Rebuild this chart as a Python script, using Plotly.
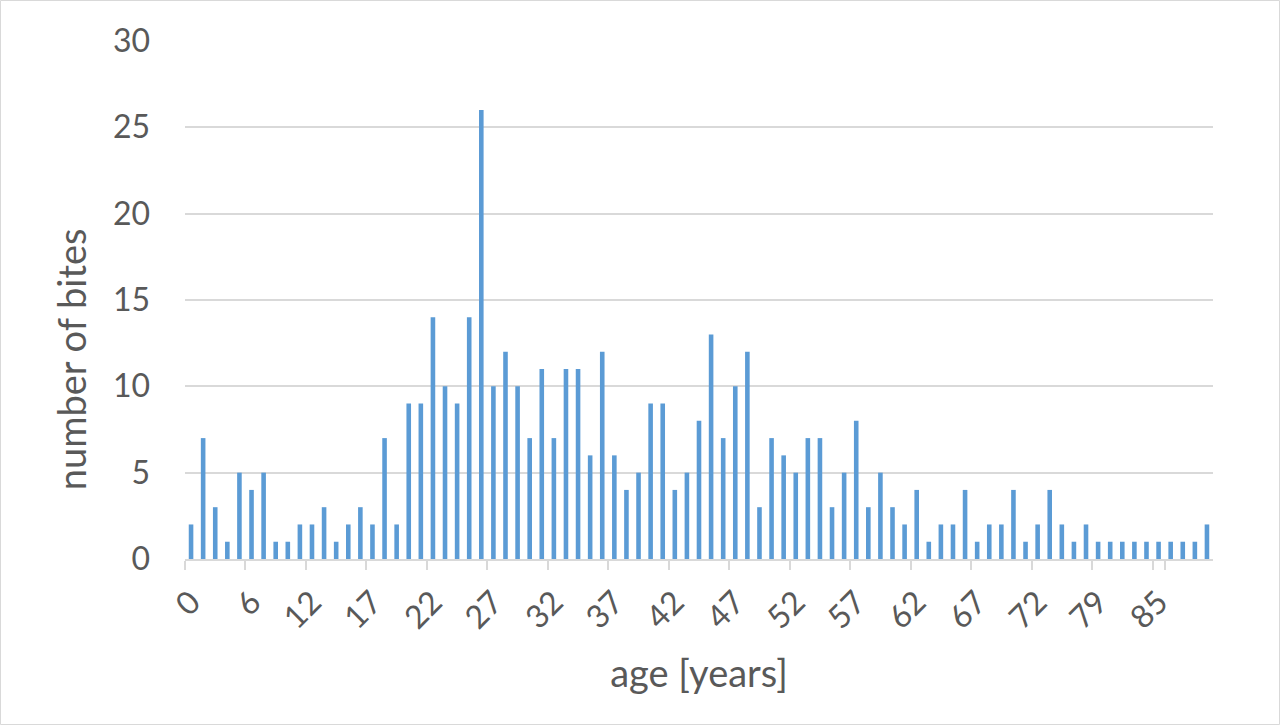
import plotly.graph_objects as go

ages = [0, 1, 2, 3, 4, 6, 7, 8, 9, 10,
        12, 13, 14, 15, 16, 17, 18, 19, 20, 21,
        22, 23, 24, 25, 26, 27, 28, 29, 30, 31,
        32, 33, 34, 35, 36, 37, 38, 39, 40, 41,
        42, 43, 44, 45, 46, 47, 48, 49, 50, 51,
        52, 53, 54, 55, 56, 57, 58, 59, 60, 61,
        62, 63, 64, 65, 66, 67, 68, 69, 70, 71,
        72, 73, 75, 76, 78, 79, 80, 81, 82, 84,
        85, 86, 87, 89, 91]
bites = [2, 7, 3, 1, 5, 4, 5, 1, 1, 2,
         2, 3, 1, 2, 3, 2, 7, 2, 9, 9,
         14, 10, 9, 14, 26, 10, 12, 10, 7, 11,
         7, 11, 11, 6, 12, 6, 4, 5, 9, 9,
         4, 5, 8, 13, 7, 10, 12, 3, 7, 6,
         5, 7, 7, 3, 5, 8, 3, 5, 3, 2,
         4, 1, 2, 2, 4, 1, 2, 2, 4, 1,
         2, 4, 2, 1, 2, 1, 1, 1, 1, 1,
         1, 1, 1, 1, 2]
tick_labels = ["0", "6", "12", "17", "22", "27", "32", "37", "42",
               "47", "52", "57", "62", "67", "72", "79", "85"]
y_ticks = [0, 5, 10, 15, 20, 25, 30]
x_title = "age [years]"
y_title = "number of bites"

cats = [str(a) for a in ages]
font_family = "Lato, Open Sans, sans-serif"
txt = "#595959"

fig = go.Figure(go.Bar(x=cats, y=bites, marker=dict(color="#5b9bd5", line=dict(width=0))))

fig.update_layout(
    width=1280, height=725,
    paper_bgcolor="white", plot_bgcolor="white",
    margin=dict(l=185, r=67, t=40, b=166, autoexpand=False),
    bargap=0.62,
    showlegend=False,
    font=dict(family=font_family, color=txt),
    shapes=[dict(type="rect", xref="paper", yref="paper",
                 x0=-184.5 / 1028, x1=1 + 66.5 / 1028,
                 y0=-165.5 / 519, y1=1 + 39.5 / 519,
                 line=dict(color="#d9d9d9", width=1), layer="below")],
    annotations=[dict(text=y_title, xref="paper", yref="paper",
                      x=-114 / 1028, y=0.385, textangle=-90, showarrow=False,
                      xanchor="center", yanchor="middle",
                      font=dict(size=38, color=txt, family=font_family))],
)
fig.update_xaxes(
    type="category",
    categoryorder="array", categoryarray=cats,
    tickmode="array", tickvals=tick_labels, ticktext=tick_labels,
    tickson="boundaries",
    ticks="outside", ticklen=9, tickcolor="#d9d9d9", tickwidth=1.5,
    showline=True, linecolor="#d9d9d9", linewidth=1.5,
    showgrid=False,
    tickangle=-45,
    tickfont=dict(size=32, color=txt, family=font_family),
    ticklabelstandoff=10,
    title=dict(text=x_title, font=dict(size=38, color=txt, family=font_family), standoff=26),
    range=[-0.5, len(cats) - 0.5],
    automargin=False,
)
fig.update_yaxes(
    range=[0, 30.05], tickmode="array", tickvals=y_ticks,
    showgrid=True, gridcolor="#d9d9d9", gridwidth=1.5,
    zeroline=False, showline=False, ticks="",
    tickfont=dict(size=32, color=txt, family=font_family),
    ticklabelstandoff=34,
    automargin=False,
)

fig.write_html("out.html", config={"displayModeBar": False},
               post_script="document.body.style.margin='0';document.body.style.padding='0';")
